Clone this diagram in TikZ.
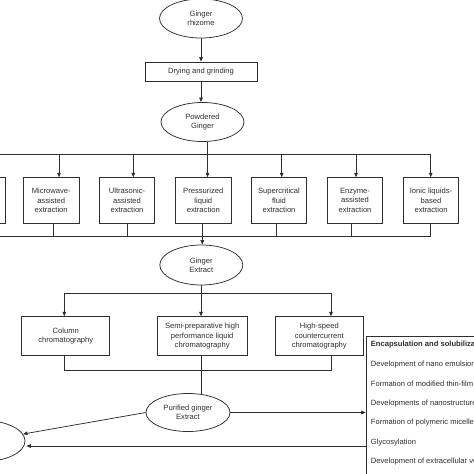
\documentclass[tikz,border=0pt]{standalone}
\usepackage{fontspec}
\setmainfont{Liberation Sans}
\usetikzlibrary{shapes.geometric,arrows.meta}
\begin{document}
\begin{tikzpicture}[x=1pt,y=-1pt,
  every node/.style={font=\fontsize{7.6}{9.3}\selectfont, text=black!82, inner sep=0pt, align=center},
  ell/.style={draw=black!82, ellipse, line width=0.75pt, minimum width=83pt, minimum height=39pt},
  box/.style={draw=black!82, rectangle, line width=0.75pt},
  ext/.style={box, minimum width=55.5pt, minimum height=45.3pt},
  ch/.style={box, minimum width=88pt, minimum height=39pt},
  ln/.style={draw=black!82, line width=0.75pt},
  arr/.style={ln, -{Triangle[length=4.5pt,width=3.6pt]}},
  item/.style={anchor=west, align=left}]
\useasboundingbox (0,0) rectangle (474,474);
\clip (0,0) rectangle (474,474);

% top
\node[ell] (rhiz) at (201,18.5) {Ginger\\rhizome};
\node[box, minimum width=112pt, minimum height=19pt] (dry) at (201,71.5) {Drying and grinding};
\node[ell] (powd) at (202.5,122) {Powdered\\Ginger};
\draw[arr] (rhiz.south) -- (dry.north);
\draw[arr] (dry.south) -- (dry.south |- powd.north);

% extraction boxes
\node[ext] (e0) at (-22,200.3) {};
\node[ext] (e1) at (51.2,200.3) {Microwave-\\assisted\\extraction};
\node[ext] (e2) at (127,200.3) {Ultrasonic-\\assisted\\extraction};
\node[ext] (e3) at (203.3,200.3) {Pressurized\\liquid\\extraction};
\node[ext] (e4) at (279,200.3) {Supercritical\\fluid\\extraction};
\node[ext] (e5) at (355,200.3) {Enzyme-\\assisted\\extraction};
\node[ext] (e6) at (431,200.3) {Ionic liquids-\\based\\extraction};

\coordinate (t0) at (-15.3,154.3);
\coordinate (t1) at (59,154.3);
\coordinate (t2) at (133.3,154.3);
\coordinate (t3) at (207.5,154.3);
\coordinate (t4) at (281.7,154.3);
\coordinate (t5) at (356,154.3);
\coordinate (t6) at (430.7,154.3);
\draw[ln] (t0) -- (t6);
\draw[ln] (powd.south -| t3) -- (t3);
\foreach \i in {0,...,6} {\draw[arr] (t\i) -- (t\i |- e\i.north);}

\coordinate (b0) at (-22,236.7);
\coordinate (b1) at (53.3,236.7);
\coordinate (b2) at (127.3,236.7);
\coordinate (b3) at (202.3,236.7);
\coordinate (b4) at (276.7,236.7);
\coordinate (b5) at (351.3,236.7);
\coordinate (b6) at (430.7,236.7);
\foreach \i in {0,...,6} {\draw[ln] (b\i |- e\i.south) -- (b\i);}
\draw[ln] (b0) -- (b6);

\node[ell, minimum height=40pt] (gext) at (201.3,265) {Ginger\\Extract};
\draw[arr] (b3) -- (b3 |- gext.north);

% chromatography
\coordinate (c1) at (64.3,293.3);
\coordinate (c2) at (201,293.3);
\coordinate (c3) at (331,293.3);
\draw[ln] (gext.south -| c2) -- (c2);
\draw[ln] (c1) -- (c3);
\node[ch] (k1) at (65.8,336.2) {Column\\chromatography};
\node[ch, minimum width=89.7pt] (k2) at (202.2,336.2) {Semi-preparative high\\performance liquid\\chromatography};
\node[ch] (k3) at (319.3,336.2) {High-speed\\countercurrent\\chromatography};
\foreach \i in {1,2,3} {\draw[arr] (c\i) -- (c\i |- k\i.north);}

\coordinate (d1) at (64.3,370.7);
\coordinate (d3) at (331,370.7);
\draw[ln] (d1 |- k1.south) -- (d1) -- (d3) -- (d3 |- k3.south);

\node[ell, minimum width=84pt, minimum height=38pt] (pur) at (188,412.5) {Purified ginger\\Extract};
\draw[ln] (k2.south -| c2) -- ([yshift=-0.9pt]pur.north -| c2);

% right box
\node[box, anchor=north west, minimum width=150pt, minimum height=170pt] (rb) at (365.7,335.7) {};
\node[item] (r0) at (370.7,344.7) {\textbf{Encapsulation and solubilization}};
\node[item] (r1) at (370.7,364.2) {Development of nano emulsions};
\node[item] (r2) at (370.7,383.7) {Formation of modified thin-film};
\node[item] (r3) at (370.7,403.2) {Developments of nanostructures};
\node[item] (r4) at (370.7,422.7) {Formation of polymeric micelles};
\node[item] (r5) at (370.7,442.2) {Glycosylation};
\node[item] (r6) at (370.7,461.7) {Development of extracellular vesicles};

\draw[arr] (pur.east) -- (pur.east -| rb.west);

% left ellipse
\node[ell, minimum width=83pt, minimum height=41pt] (fin) at (-16.5,441) {};
\draw[arr] (pur.west) -- (fin);
\coordinate (rbo) at (365.7,446);
\draw[arr] (rbo) -- ([xshift=1pt]rbo -| fin.east);
\end{tikzpicture}
\end{document}
